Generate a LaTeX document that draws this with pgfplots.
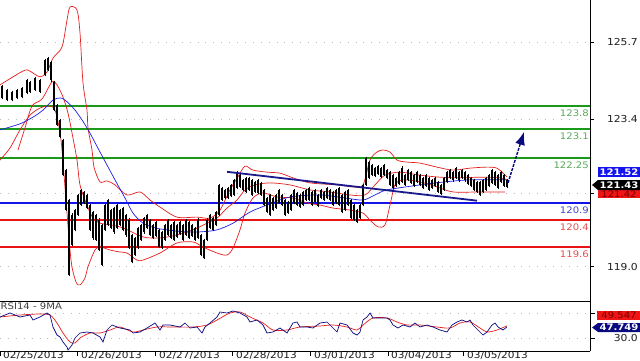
\documentclass[border=0pt]{standalone}
\usepackage{pgfplots}
\pgfplotsset{compat=1.18}
\usepackage{fontspec}
\setmainfont{DejaVu Sans}[FakeStretch=1.12]
\usetikzlibrary{arrows.meta}
\definecolor{lvgreen}{RGB}{25,155,25}
\definecolor{lvblue}{RGB}{20,20,230}
\definecolor{lvred}{RGB}{235,20,20}
\definecolor{lblgreen}{RGB}{90,170,90}
\definecolor{lblblue}{RGB}{70,70,200}
\definecolor{lblred}{RGB}{225,80,80}
\definecolor{navy}{RGB}{10,10,128}
\definecolor{bandred}{RGB}{230,30,30}
\definecolor{trend}{RGB}{25,25,140}
\definecolor{maBlue}{RGB}{30,30,230}
\definecolor{txt}{RGB}{30,30,30}
\definecolor{boxblue}{RGB}{20,20,240}
\definecolor{boxred}{RGB}{240,20,20}
\definecolor{darkred}{RGB}{120,0,0}
\pgfplotstableread{
x m e
2 124.21 0.18
7 124.12 0.15
12 124.09 0.12
17 124.15 0.12
22 124.19 0.13
27 124.37 0.19
30 124.36 0.15
35 124.45 0.18
40 124.39 0.18
45 124.94 0.22
48 125.04 0.18
51 124.83 0.27
54 124.09 0.42
57 123.52 0.30
60 123.12 0.25
63 122.26 0.52
66 121.29 0.60
69 119.87 1.12
72 120.10 0.45
75 120.39 0.30
78 120.84 0.30
81 121.06 0.22
84 121.06 0.16
87 120.95 0.19
90 120.47 0.37
93 120.24 0.39
96 120.17 0.37
99 119.95 0.45
102 119.65 0.60
105 120.47 0.37
108 120.62 0.37
111 120.42 0.27
114 120.39 0.36
117 120.50 0.34
120 120.47 0.22
123 120.42 0.33
126 120.24 0.30
129 119.98 0.42
132 119.54 0.40
135 119.60 0.25
138 119.86 0.30
141 120.02 0.22
144 120.24 0.21
147 120.35 0.19
150 120.17 0.22
153 120.05 0.19
156 120.13 0.21
159 119.84 0.25
162 119.80 0.24
165 120.02 0.22
168 120.17 0.22
171 120.05 0.19
174 120.07 0.27
177 120.07 0.18
180 120.16 0.18
183 120.02 0.22
186 120.17 0.22
189 120.10 0.24
192 120.08 0.16
195 119.98 0.18
198 120.13 0.27
201 119.65 0.30
204 119.53 0.27
207 120.10 0.30
210 120.35 0.19
213 120.27 0.18
216 120.44 0.19
219 120.99 0.45
222 121.17 0.18
225 121.17 0.12
228 121.20 0.15
231 121.27 0.16
234 121.36 0.22
237 121.59 0.24
240 121.56 0.18
243 121.44 0.15
246 121.44 0.21
249 121.47 0.18
252 121.36 0.22
255 121.38 0.15
258 121.39 0.19
261 121.32 0.18
264 121.06 0.22
267 120.84 0.21
270 120.84 0.30
273 120.87 0.18
276 120.95 0.19
279 121.09 0.19
282 120.99 0.15
285 120.77 0.22
288 120.77 0.16
291 120.92 0.22
294 121.09 0.19
297 121.02 0.18
300 120.96 0.18
303 121.03 0.19
306 121.14 0.15
309 121.17 0.18
312 121.03 0.19
315 121.11 0.18
318 120.97 0.16
321 121.17 0.12
324 121.11 0.12
327 121.20 0.15
330 121.14 0.15
333 121.03 0.19
336 121.09 0.19
339 121.09 0.25
342 120.89 0.25
345 120.96 0.27
348 121.06 0.22
351 120.72 0.27
354 120.62 0.22
357 120.51 0.18
360 120.65 0.19
363 121.14 0.30
366 121.84 0.40
369 121.88 0.24
372 121.88 0.15
375 121.82 0.12
378 121.88 0.12
381 121.81 0.13
384 121.88 0.15
387 121.76 0.12
390 121.63 0.19
393 121.54 0.19
396 121.53 0.12
399 121.65 0.18
402 121.74 0.21
405 121.59 0.15
408 121.74 0.15
411 121.66 0.16
414 121.57 0.16
417 121.68 0.15
420 121.59 0.15
423 121.50 0.15
426 121.57 0.16
429 121.47 0.18
432 121.47 0.12
435 121.53 0.12
438 121.38 0.15
441 121.30 0.13
444 121.47 0.18
447 121.68 0.15
450 121.76 0.12
453 121.70 0.12
456 121.79 0.15
459 121.70 0.12
462 121.76 0.12
465 121.70 0.12
468 121.60 0.13
471 121.53 0.12
474 121.44 0.15
477 121.38 0.15
480 121.33 0.19
483 121.41 0.18
486 121.47 0.18
489 121.57 0.16
492 121.69 0.19
495 121.63 0.19
498 121.54 0.19
501 121.68 0.15
504 121.57 0.16
507 121.48 0.10
}\bars
\begin{document}
\begin{tikzpicture}
\path[use as bounding box, clip] (0,0) rectangle (640pt,360pt);
\fill[white] (0,0) rectangle (640pt,360pt);
% ---------------- main price panel ----------------
\begin{axis}[
  at={(0pt,59pt)}, anchor=south west,
  width=590pt, height=321pt, scale only axis,
  xmin=0, xmax=590, ymin=117.98, ymax=127.546,
  axis x line*=bottom, axis y line*=right,
  axis line style={black, line width=0.8pt},
  xtick=\empty,
  ytick={119.0,121.2,123.4,125.7}, yticklabels={},
  tick align=outside, major tick length=4pt,
  tick style={black, line width=0.6pt},
  ymajorgrids, grid style={gray!55, line width=0.9pt, dash pattern=on 0.9pt off 7pt},
  clip=false,
]
% level lines
\addplot[lvgreen, line width=1.9pt] coordinates {(0,123.8) (590,123.8)};
\addplot[lvgreen, line width=1.9pt] coordinates {(0,123.1) (590,123.1)};
\addplot[lvgreen, line width=1.9pt] coordinates {(0,122.25) (590,122.25)};
\addplot[lvblue, line width=2pt] coordinates {(0,120.9) (590,120.9)};
\addplot[lvred, line width=1.9pt] coordinates {(0,120.4) (590,120.4)};
\addplot[lvred, line width=1.9pt] coordinates {(0,119.6) (590,119.6)};
% bands
\addplot[bandred, line width=0.7pt, smooth] coordinates {
(0,124.42) (13,124.66) (25,124.86) (30,124.83) (40,124.66) (47,124.80) (53,125.22) (62,125.55) (67,126.35) (70,126.74) (77,126.65) (80,125.97) (83,124.48) (87,123.67) (88,123.14) (92,122.48) (94,121.97) (100,121.53) (107,121.56) (115,121.44) (127,121.14) (140,121.23) (150,120.99) (160,120.78) (177,120.48) (197,120.48) (210,120.45) (220,120.69) (230,121.29) (238,121.68) (245,122.00) (253,121.88) (267,121.82) (280,121.79) (293,121.65) (310,121.50) (337,121.44) (353,121.38) (363,121.44) (370,122.18) (377,122.42) (383,122.48) (390,122.42) (397,122.18) (407,122.12) (420,122.09) (437,121.97) (453,121.88) (470,121.94) (487,121.97) (497,121.94) (503,121.79) (507,121.68)};
\addplot[bandred, line width=0.7pt, smooth] coordinates {
(18,122.48) (25,123.14) (32,123.79) (42,124.00) (52,124.51) (57,124.42) (63,124.06) (68,123.58) (72,122.99) (77,122.18) (80,121.44) (87,120.84) (93,120.45) (100,120.30) (110,120.25) (123,120.16) (143,119.89) (160,119.86) (177,119.95) (193,120.10) (207,120.30) (217,120.45) (227,120.75) (237,120.99) (245,121.29) (255,121.44) (270,121.50) (290,121.44) (310,121.29) (330,121.23) (350,121.14) (365,121.14) (375,121.44) (385,121.73) (400,121.82) (420,121.73) (440,121.67) (460,121.65) (480,121.67) (500,121.65) (507,121.59)};
\addplot[bandred, line width=0.7pt, smooth] coordinates {
(0,122.18) (10,122.54) (20,123.08) (30,123.52) (40,123.73) (48,123.79) (55,123.67) (61,122.78) (66,120.99) (71,119.20) (76,118.55) (80,118.46) (85,118.67) (88,119.00) (95,119.50) (100,119.59) (110,119.50) (120,119.44) (127,119.41) (137,119.20) (143,119.20) (160,119.41) (177,119.71) (193,119.74) (203,119.59) (217,119.41) (227,119.35) (233,119.56) (240,120.10) (245,120.60) (253,121.05) (263,121.20) (277,121.08) (293,121.05) (307,120.90) (320,120.84) (333,120.75) (350,120.69) (363,120.60) (370,120.39) (378,120.19) (385,120.25) (390,120.84) (395,121.44) (403,121.59) (420,121.53) (437,121.38) (453,121.23) (480,121.23) (505,121.23)};
% moving average
\addplot[maBlue, line width=0.7pt, smooth] coordinates {
(0,123.08) (20,123.26) (33,123.46) (43,123.67) (53,123.97) (60,124.03) (65,123.97) (75,123.67) (87,123.14) (100,122.42) (115,121.59) (125,121.05) (133,120.60) (143,120.30) (155,120.16) (167,120.10) (185,120.04) (200,120.04) (217,120.10) (233,120.30) (250,120.63) (267,120.84) (290,121.08) (320,121.14) (345,121.05) (363,120.99) (375,121.14) (387,121.29) (420,121.44) (445,121.53) (470,121.59) (507,121.59)};
% price bars
\addplot[draw=none, mark=none, forget plot,
  error bars/.cd, y dir=both, y explicit, error mark=-,
  error mark options={black, line width=0.7pt, mark size=1.3pt},
  error bar style={black, line width=1.1pt}]
  table[x=x, y=m, y error=e] {\bars};
% trend line and arrow
\addplot[trend, line width=1.8pt] coordinates {(227,121.83) (477,120.97)};
\addplot[navy, line width=1.4pt, dash pattern=on 3pt off 1.2pt,
  -{Latex[length=13pt,width=10pt]}] coordinates {(508,121.50) (524,123.02)};
% level labels
\begin{scope}[every node/.style={anchor=north east, inner sep=0pt, yshift=-3.5pt, font=\fontsize{9pt}{10pt}\selectfont}]
\node[text=lblgreen] at (axis cs:589,123.8) {123.8};
\node[text=lblgreen] at (axis cs:589,123.1) {123.1};
\node[text=lblgreen] at (axis cs:589,122.25) {122.25};
\node[text=lblblue] at (axis cs:589,120.9) {120.9};
\node[text=lblred] at (axis cs:589,120.4) {120.4};
\node[text=lblred] at (axis cs:589,119.6) {119.6};
\end{scope}
% axis tick labels
\begin{scope}[every node/.style={anchor=east, inner sep=0pt, text=txt, font=\fontsize{9.6pt}{10pt}\selectfont}]
\node at (axis cs:638,125.7) {125.7};
\node at (axis cs:638,123.4) {123.4};
\node at (axis cs:638,119.0) {119.0};
\end{scope}
\end{axis}
% ---------------- RSI panel ----------------
\begin{axis}[
  at={(0pt,9pt)}, anchor=south west,
  width=590pt, height=50pt, scale only axis,
  xmin=0, xmax=590, ymin=9.2, ymax=89.2,
  axis x line*=bottom, axis y line*=right,
  axis line style={black, line width=0.8pt},
  xtick={0,77,155,232,310,388,463}, xticklabels={},
  ytick={30,70}, yticklabels={},
  tick align=outside, major tick length=5pt,
  tick style={black, line width=0.7pt},
  ymajorgrids, grid style={gray!55, line width=0.9pt, dash pattern=on 0.9pt off 7pt},
  clip=false,
]
\addplot[bandred, line width=0.7pt, smooth] coordinates {
(0,63.6) (20,66.8) (40,68.4) (50,66.8) (57,54.0) (63,38.0) (70,23.6) (75,22.0) (80,30.0) (90,38.0) (100,38.0) (110,42.8) (120,47.6) (133,39.6) (143,42.8) (157,47.6) (173,47.6) (193,47.6) (207,50.8) (217,58.8) (230,70.0) (240,71.6) (250,63.6) (263,54.0) (273,42.8) (287,42.8) (300,47.6) (320,49.2) (333,50.8) (347,47.6) (357,42.8) (363,50.8) (373,62.0) (387,62.0) (397,55.6) (407,50.8) (420,50.8) (437,47.6) (450,46.0) (460,54.0) (470,55.6) (480,46.0) (487,39.6) (497,42.8) (507,49.5)};
\addplot[navy, line width=0.7pt] coordinates {
(0,63.6) (10,70.0) (20,63.6) (30,66.8) (33,58.8) (40,63.6) (47,70.0) (50,66.8) (53,47.6) (57,34.8) (60,31.6) (63,23.6) (67,15.6) (68,10.8) (72,18.8) (75,30.0) (80,38.0) (87,39.6) (93,38.0) (100,31.6) (103,23.6) (107,42.8) (112,50.8) (120,46.0) (130,42.8) (133,38.0) (140,39.6) (147,46.0) (155,54.0) (160,42.8) (163,50.8) (170,50.8) (180,47.6) (185,54.0) (190,46.0) (197,47.6) (202,38.0) (205,47.6) (210,54.0) (217,63.6) (220,71.6) (227,70.0) (233,73.2) (240,70.0) (247,63.6) (250,55.6) (257,58.8) (263,50.8) (267,38.0) (273,39.6) (280,46.0) (287,38.0) (293,54.0) (297,55.6) (300,47.6) (307,47.6) (313,46.0) (320,54.0) (327,55.6) (333,46.0) (337,39.6) (340,54.0) (347,50.8) (353,38.0) (357,34.8) (360,39.6) (363,58.8) (367,63.6) (370,70.0) (373,62.0) (380,62.0) (387,62.0) (390,58.8) (393,50.8) (398,46.0) (403,50.8) (410,47.6) (415,54.0) (420,47.6) (427,50.8) (433,47.6) (440,42.8) (447,39.6) (452,50.8) (457,55.6) (462,58.8) (467,55.6) (470,58.8) (473,50.8) (478,42.8) (483,34.8) (487,39.6) (492,50.8) (495,54.0) (498,47.6) (503,42.8) (507,47.7)};
\node[anchor=east, inner sep=0pt, text=txt, font=\fontsize{9.6pt}{10pt}\selectfont] at (axis cs:638,30) {30.0};
\end{axis}
% date labels
\begin{scope}[every node/.style={anchor=north west, inner sep=0pt, text=txt, font=\fontsize{9.4pt}{10pt}\selectfont}]
\node at (3pt,8.3pt) {02/25/2013};
\node at (81pt,8.3pt) {02/26/2013};
\node at (159pt,8.3pt) {02/27/2013};
\node at (236pt,8.3pt) {02/28/2013};
\node at (314pt,8.3pt) {03/01/2013};
\node at (391pt,8.3pt) {03/04/2013};
\node at (467pt,8.3pt) {03/05/2013};
\end{scope}
% RSI title
\node[anchor=north west, inner sep=0pt, text=txt!85, font=\fontsize{9pt}{10pt}\selectfont] at (0.5pt,57pt) {RSI14 - 9MA};
% price boxes
\fill[boxblue] (598pt,183pt) rectangle (640pt,193pt);
\node[text=white, font=\fontsize{9pt}{10pt}\selectfont\bfseries, inner sep=0pt] at (619pt,188pt) {121.52};
\fill[boxred] (598pt,162pt) rectangle (640pt,170pt);
\node[text=darkred, font=\fontsize{9pt}{10pt}\selectfont, inner sep=0pt] at (619pt,165.5pt) {121.42};
\fill[black] (592pt,175pt) -- (598pt,180pt) -- (640pt,180pt) -- (640pt,170pt) -- (598pt,170pt) -- cycle;
\node[text=white, font=\fontsize{9pt}{10pt}\selectfont\bfseries, inner sep=0pt] at (619pt,175pt) {121.43};
\fill[boxred] (597pt,40pt) rectangle (640pt,49pt);
\node[text=darkred, font=\fontsize{9pt}{10pt}\selectfont, inner sep=0pt] at (619pt,44.5pt) {49.547};
\fill[navy] (592pt,32.5pt) -- (598pt,37pt) -- (640pt,37pt) -- (640pt,28pt) -- (598pt,28pt) -- cycle;
\node[text=white, font=\fontsize{9pt}{10pt}\selectfont\bfseries, inner sep=0pt] at (619pt,32.5pt) {47.749};
\end{tikzpicture}
\end{document}
